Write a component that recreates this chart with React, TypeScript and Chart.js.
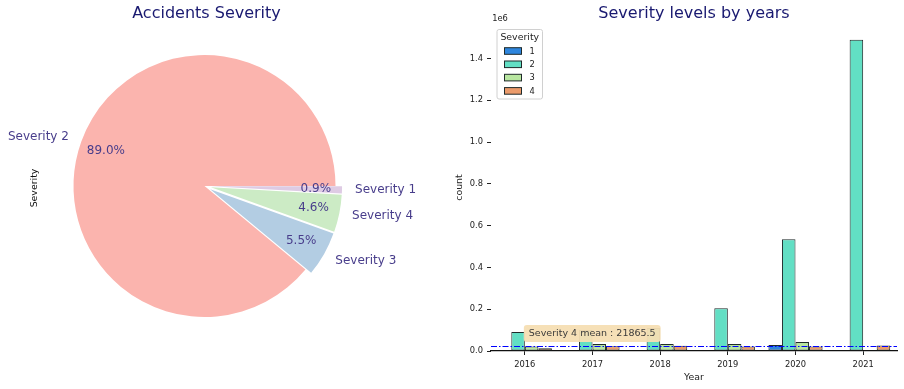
import React, { useEffect, useRef } from 'react';
import { Chart, registerables } from 'chart.js';
Chart.register(...registerables);

// ---- Pie data (clockwise from 3 o'clock, matching matplotlib's counter-clockwise order reversed)
const pieLabels = ['Severity 1', 'Severity 4', 'Severity 3', 'Severity 2'];
const pieShares = [0.9, 4.6, 5.5, 89.0];
const pieColors = ['#decbe4', '#ccebc5', '#b3cde3', '#fbb4ae'];
const pieExplode = [0.05, 0.05, 0.05, 0];

// ---- Bar data
const years = ['2016', '2017', '2018', '2019', '2020', '2021'];
const severityNames = ['1', '2', '3', '4'];
const sev1 = [0, 0, 0, 0, 29000, 0];
const sev2 = [91000, 100000, 110000, 205000, 535000, 1490000];
const sev3 = [22000, 34000, 34000, 34000, 43000, 0];
const sev4 = [13500, 22600, 25300, 21900, 21200, 26693];
const barColors = ['#2e86de', '#62dfc4', '#b8e6a0', '#eb9b6b'];
const yMax = 1565000;
const yTickValues = [0, 200000, 400000, 600000, 800000, 1000000, 1200000, 1400000];

const FONT = '"DejaVu Sans", sans-serif';
const TITLE_COLOR = '#191970';
const LABEL_COLOR = '#483d8b';
const EDGE = '#1f2a2a';

export default function App() {
  const pieRef = useRef<HTMLCanvasElement>(null);
  const barRef = useRef<HTMLCanvasElement>(null);

  useEffect(() => {
    const total = pieShares.reduce((a, b) => a + b, 0);

    const explodePlugin = {
      id: 'explode',
      beforeDatasetsDraw(chart: any) {
        const { chartArea } = chart;
        const cx = (chartArea.left + chartArea.right) / 2;
        const cy = (chartArea.top + chartArea.bottom) / 2;
        chart.getDatasetMeta(0).data.forEach((arc: any, i: number) => {
          const mid = (arc.startAngle + arc.endAngle) / 2;
          const d = pieExplode[i] * arc.outerRadius;
          arc.x = cx + Math.cos(mid) * d;
          arc.y = cy + Math.sin(mid) * d;
        });
      },
    };

    const pieTextPlugin = {
      id: 'pieText',
      afterDatasetsDraw(chart: any) {
        const ctx = chart.ctx;
        const { chartArea } = chart;
        ctx.save();
        ctx.textBaseline = 'middle';
        chart.getDatasetMeta(0).data.forEach((arc: any, i: number) => {
          const mid = (arc.startAngle + arc.endAngle) / 2;
          const R = arc.outerRadius;
          const c = Math.cos(mid), s = Math.sin(mid);
          ctx.fillStyle = LABEL_COLOR;
          ctx.font = `12px ${FONT}`;
          ctx.textAlign = c > 0 ? 'left' : 'right';
          ctx.fillText(pieLabels[i], arc.x + c * 1.1 * R, arc.y + s * 1.1 * R);
          ctx.textAlign = 'center';
          const pct = ((pieShares[i] / total) * 100).toFixed(1) + '%';
          ctx.fillText(pct, arc.x + c * 0.8 * R, arc.y + s * 0.8 * R);
        });
        // title
        const cx = (chartArea.left + chartArea.right) / 2;
        ctx.fillStyle = TITLE_COLOR;
        ctx.font = `16px ${FONT}`;
        ctx.textAlign = 'center';
        ctx.fillText('Accidents Severity', cx + 2, 14);
        // y label
        ctx.save();
        ctx.translate(35, (chartArea.top + chartArea.bottom) / 2 + 2);
        ctx.rotate(-Math.PI / 2);
        ctx.fillStyle = '#111';
        ctx.font = `9.4px ${FONT}`;
        ctx.fillText('Severity', 0, 0);
        ctx.restore();
        ctx.restore();
      },
    };

    const pie = new Chart(pieRef.current!, {
      type: 'pie',
      data: {
        labels: pieLabels,
        datasets: [
          {
            data: pieShares,
            backgroundColor: pieColors,
            borderWidth: 0,
            radius: 131,
          } as any,
        ],
      },
      options: {
        responsive: false,
        animation: false,
        events: [],
        rotation: 90,
        layout: { padding: { left: 0, right: 41, top: 0, bottom: 17 } },
        plugins: {
          legend: { display: false },
          tooltip: { enabled: false },
          title: { display: false },
        },
      } as any,
      plugins: [explodePlugin, pieTextPlugin],
    });

    const mean = sev4.reduce((a, b) => a + b, 0) / sev4.length;

    const barExtras = {
      id: 'barExtras',
      afterDatasetsDraw(chart: any) {
        const ctx = chart.ctx;
        const { chartArea, scales } = chart;
        const yS = scales.y, xS = scales.x;
        ctx.save();
        // mean line
        const my = yS.getPixelForValue(mean);
        ctx.strokeStyle = '#0000ff';
        ctx.lineWidth = 1.1;
        ctx.setLineDash([6, 2, 1.5, 2]);
        ctx.beginPath();
        ctx.moveTo(chartArea.left, my);
        ctx.lineTo(chartArea.right, my);
        ctx.stroke();
        ctx.setLineDash([]);
        // annotation box
        const text = `Severity 4 mean : ${mean}`;
        ctx.font = `9.5px ${FONT}`;
        const tw = ctx.measureText(text).width;
        const bx = xS.getPixelForValue(0) - 1;
        const by = my - 21.5;
        const bw = tw + 10, bh = 17;
        ctx.fillStyle = 'rgba(245,222,179,0.95)';
        ctx.beginPath();
        (ctx as any).roundRect(bx, by, bw, bh, 3);
        ctx.fill();
        ctx.fillStyle = '#3a3a3a';
        ctx.textAlign = 'left';
        ctx.textBaseline = 'middle';
        ctx.fillText(text, bx + 5, by + bh / 2 + 0.5);
        // offset text
        ctx.fillStyle = '#222';
        ctx.font = `8.3px ${FONT}`;
        ctx.textAlign = 'center';
        ctx.fillText('1e6', chartArea.left + 9, 19);
        // title
        ctx.fillStyle = TITLE_COLOR;
        ctx.font = `16px ${FONT}`;
        ctx.fillText('Severity levels by years', (chartArea.left + chartArea.right) / 2, 14);
        // legend
        const lx = chartArea.left + 6, ly = 29.5, lw = 45.5, lh = 69.5;
        ctx.fillStyle = 'rgba(255,255,255,0.85)';
        ctx.strokeStyle = '#d0d0d0';
        ctx.lineWidth = 1;
        ctx.beginPath();
        (ctx as any).roundRect(lx, ly, lw, lh, 2);
        ctx.fill();
        ctx.stroke();
        ctx.fillStyle = '#222';
        ctx.font = `9.4px ${FONT}`;
        ctx.textAlign = 'center';
        ctx.fillText('Severity', lx + lw / 2, ly + 8);
        ctx.font = `8.3px ${FONT}`;
        chart.data.datasets.forEach((ds: any, i: number) => {
          const cy = ly + 21.5 + i * 13.3;
          ctx.fillStyle = ds.backgroundColor;
          ctx.fillRect(lx + 7.5, cy - 3.3, 17, 6.6);
          ctx.strokeStyle = EDGE;
          ctx.strokeRect(lx + 7.5, cy - 3.3, 17, 6.6);
          ctx.fillStyle = '#222';
          ctx.textAlign = 'left';
          ctx.fillText(ds.label, lx + 32.5, cy + 0.5);
        });
        ctx.restore();
      },
    };

    const tickFont = { family: FONT, size: 8.3 };
    const axisTitleFont = { family: FONT, size: 9.4 };
    const series = [sev1, sev2, sev3, sev4];

    const bar = new Chart(barRef.current!, {
      type: 'bar',
      data: {
        labels: years,
        datasets: series.map((d, i) => ({
          label: severityNames[i],
          data: d,
          backgroundColor: barColors[i],
          borderColor: EDGE,
          borderWidth: 1,
          borderSkipped: false,
          categoryPercentage: 0.8,
          barPercentage: 1.0,
        })),
      },
      options: {
        responsive: false,
        animation: false,
        events: [],
        layout: { padding: { left: 0, right: 7, top: 24, bottom: 0 } },
        scales: {
          x: {
            offset: true,
            grid: { offset: false, drawOnChartArea: false, drawTicks: true, tickLength: 4, color: '#222' },
            border: { display: true, color: '#111', width: 1.3 },
            ticks: { font: tickFont, color: '#222', padding: 5, maxRotation: 0 },
            title: { display: true, text: 'Year', font: axisTitleFont, color: '#222', padding: { top: 0, bottom: 6 } },
            afterFit: (s: any) => { s.height = 38; },
          },
          y: {
            min: 0,
            max: yMax,
            bounds: 'data',
            ticks: {
              autoSkip: false,
              font: tickFont,
              color: '#222',
              padding: 4,
              callback: (v: any) => (Number(v) / 1e6).toFixed(1),
            },
            afterBuildTicks: (s: any) => {
              s.ticks = yTickValues.map((value) => ({ value }));
            },
            grid: { drawOnChartArea: false, drawTicks: true, tickLength: 4, color: '#222' },
            border: { display: false },
            title: { display: true, text: 'count', font: axisTitleFont, color: '#222', padding: { top: 4, bottom: 0 } },
            afterFit: (s: any) => { s.width = 41; },
          },
        },
        plugins: {
          legend: { display: false },
          tooltip: { enabled: false },
          title: { display: false },
        },
      } as any,
      plugins: [barExtras],
    });

    return () => {
      pie.destroy();
      bar.destroy();
    };
  }, []);

  return (
    <div style={{ position: 'fixed', left: 0, top: 0, width: 904, height: 389, background: '#fff' }}>
      <canvas
        ref={pieRef}
        width={450}
        height={389}
        style={{ position: 'absolute', left: 0, top: 0, width: 450, height: 389 }}
      />
      <canvas
        ref={barRef}
        width={454}
        height={389}
        style={{ position: 'absolute', left: 450, top: 0, width: 454, height: 389 }}
      />
    </div>
  );
}
